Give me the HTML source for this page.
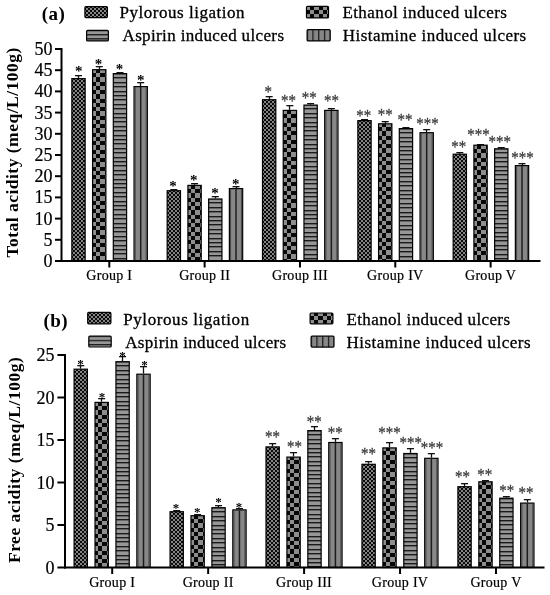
<!DOCTYPE html>
<html><head><meta charset="utf-8"><title>Total and free acidity</title>
<style>
html,body{margin:0;padding:0;background:#fff;}
body{width:550px;height:595px;overflow:hidden;}
svg{display:block;}
text{font-family:'Liberation Serif', 'Times New Roman', serif;fill:#000;}
.yl{font-size:18px;stroke:#000;stroke-width:0.2px;}
.gl{font-size:14px;letter-spacing:0.3px;stroke:#000;stroke-width:0.2px;}
.yt{font-size:17.6px;font-weight:bold;}
.pn{font-size:19px;font-weight:bold;letter-spacing:0.4px;}
.lg{font-size:17px;stroke:#000;stroke-width:0.3px;}
.s1{font-size:15px;font-weight:bold;}
.s2{font-size:15px;fill:#3a3a3a;stroke:#3a3a3a;stroke-width:0.25px;}
.s3{font-size:13px;font-weight:bold;}
.ax{stroke:#000;stroke-width:2;}
.eb{fill:#111;}
.st{stroke:#111;stroke-width:1.3;}
.bar{stroke:#000;stroke-width:1.2;}
</style></head><body>
<svg width="550" height="595" viewBox="0 0 550 595">
<defs>
<pattern id="ab00" patternUnits="userSpaceOnUse" x="71" y="78" width="4" height="4"><rect width="4" height="4" fill="#0a0a0a"/><rect width="2" height="2" fill="#848484"/><rect x="2" y="2" width="2" height="2" fill="#848484"/></pattern>
<pattern id="ab01" patternUnits="userSpaceOnUse" x="92" y="69" width="17" height="17"><rect width="17" height="17" fill="#080808"/><rect x="0" y="0" width="4" height="4" fill="#8e8e8e"/><rect x="0" y="8" width="4" height="5" fill="#8e8e8e"/><rect x="4" y="4" width="4" height="4" fill="#8e8e8e"/><rect x="4" y="13" width="4" height="4" fill="#8e8e8e"/><rect x="8" y="0" width="5" height="4" fill="#8e8e8e"/><rect x="8" y="8" width="5" height="5" fill="#8e8e8e"/><rect x="13" y="4" width="4" height="4" fill="#8e8e8e"/><rect x="13" y="13" width="4" height="4" fill="#8e8e8e"/></pattern>
<pattern id="ab02" patternUnits="userSpaceOnUse" x="0" y="73" width="4" height="22"><rect width="4" height="22" fill="#969696"/><rect y="0" width="4" height="1.4" fill="#1a1a1a"/><rect y="4" width="4" height="1.4" fill="#1a1a1a"/><rect y="9" width="4" height="1.4" fill="#1a1a1a"/><rect y="13" width="4" height="1.4" fill="#1a1a1a"/><rect y="18" width="4" height="1.4" fill="#1a1a1a"/></pattern>
<pattern id="ab10" patternUnits="userSpaceOnUse" x="167" y="190" width="4" height="4"><rect width="4" height="4" fill="#0a0a0a"/><rect width="2" height="2" fill="#848484"/><rect x="2" y="2" width="2" height="2" fill="#848484"/></pattern>
<pattern id="ab11" patternUnits="userSpaceOnUse" x="187" y="185" width="17" height="17"><rect width="17" height="17" fill="#080808"/><rect x="0" y="0" width="4" height="4" fill="#8e8e8e"/><rect x="0" y="8" width="4" height="5" fill="#8e8e8e"/><rect x="4" y="4" width="4" height="4" fill="#8e8e8e"/><rect x="4" y="13" width="4" height="4" fill="#8e8e8e"/><rect x="8" y="0" width="5" height="4" fill="#8e8e8e"/><rect x="8" y="8" width="5" height="5" fill="#8e8e8e"/><rect x="13" y="4" width="4" height="4" fill="#8e8e8e"/><rect x="13" y="13" width="4" height="4" fill="#8e8e8e"/></pattern>
<pattern id="ab12" patternUnits="userSpaceOnUse" x="0" y="198" width="4" height="22"><rect width="4" height="22" fill="#969696"/><rect y="0" width="4" height="1.4" fill="#1a1a1a"/><rect y="4" width="4" height="1.4" fill="#1a1a1a"/><rect y="9" width="4" height="1.4" fill="#1a1a1a"/><rect y="13" width="4" height="1.4" fill="#1a1a1a"/><rect y="18" width="4" height="1.4" fill="#1a1a1a"/></pattern>
<pattern id="ab20" patternUnits="userSpaceOnUse" x="262" y="99" width="4" height="4"><rect width="4" height="4" fill="#0a0a0a"/><rect width="2" height="2" fill="#848484"/><rect x="2" y="2" width="2" height="2" fill="#848484"/></pattern>
<pattern id="ab21" patternUnits="userSpaceOnUse" x="283" y="110" width="17" height="17"><rect width="17" height="17" fill="#080808"/><rect x="0" y="0" width="4" height="4" fill="#8e8e8e"/><rect x="0" y="8" width="4" height="5" fill="#8e8e8e"/><rect x="4" y="4" width="4" height="4" fill="#8e8e8e"/><rect x="4" y="13" width="4" height="4" fill="#8e8e8e"/><rect x="8" y="0" width="5" height="4" fill="#8e8e8e"/><rect x="8" y="8" width="5" height="5" fill="#8e8e8e"/><rect x="13" y="4" width="4" height="4" fill="#8e8e8e"/><rect x="13" y="13" width="4" height="4" fill="#8e8e8e"/></pattern>
<pattern id="ab22" patternUnits="userSpaceOnUse" x="0" y="104" width="4" height="22"><rect width="4" height="22" fill="#969696"/><rect y="0" width="4" height="1.4" fill="#1a1a1a"/><rect y="4" width="4" height="1.4" fill="#1a1a1a"/><rect y="9" width="4" height="1.4" fill="#1a1a1a"/><rect y="13" width="4" height="1.4" fill="#1a1a1a"/><rect y="18" width="4" height="1.4" fill="#1a1a1a"/></pattern>
<pattern id="ab30" patternUnits="userSpaceOnUse" x="357" y="120" width="4" height="4"><rect width="4" height="4" fill="#0a0a0a"/><rect width="2" height="2" fill="#848484"/><rect x="2" y="2" width="2" height="2" fill="#848484"/></pattern>
<pattern id="ab31" patternUnits="userSpaceOnUse" x="378" y="123" width="17" height="17"><rect width="17" height="17" fill="#080808"/><rect x="0" y="0" width="4" height="4" fill="#8e8e8e"/><rect x="0" y="8" width="4" height="5" fill="#8e8e8e"/><rect x="4" y="4" width="4" height="4" fill="#8e8e8e"/><rect x="4" y="13" width="4" height="4" fill="#8e8e8e"/><rect x="8" y="0" width="5" height="4" fill="#8e8e8e"/><rect x="8" y="8" width="5" height="5" fill="#8e8e8e"/><rect x="13" y="4" width="4" height="4" fill="#8e8e8e"/><rect x="13" y="13" width="4" height="4" fill="#8e8e8e"/></pattern>
<pattern id="ab32" patternUnits="userSpaceOnUse" x="0" y="128" width="4" height="22"><rect width="4" height="22" fill="#969696"/><rect y="0" width="4" height="1.4" fill="#1a1a1a"/><rect y="4" width="4" height="1.4" fill="#1a1a1a"/><rect y="9" width="4" height="1.4" fill="#1a1a1a"/><rect y="13" width="4" height="1.4" fill="#1a1a1a"/><rect y="18" width="4" height="1.4" fill="#1a1a1a"/></pattern>
<pattern id="ab40" patternUnits="userSpaceOnUse" x="453" y="154" width="4" height="4"><rect width="4" height="4" fill="#0a0a0a"/><rect width="2" height="2" fill="#848484"/><rect x="2" y="2" width="2" height="2" fill="#848484"/></pattern>
<pattern id="ab41" patternUnits="userSpaceOnUse" x="473" y="145" width="17" height="17"><rect width="17" height="17" fill="#080808"/><rect x="0" y="0" width="4" height="4" fill="#8e8e8e"/><rect x="0" y="8" width="4" height="5" fill="#8e8e8e"/><rect x="4" y="4" width="4" height="4" fill="#8e8e8e"/><rect x="4" y="13" width="4" height="4" fill="#8e8e8e"/><rect x="8" y="0" width="5" height="4" fill="#8e8e8e"/><rect x="8" y="8" width="5" height="5" fill="#8e8e8e"/><rect x="13" y="4" width="4" height="4" fill="#8e8e8e"/><rect x="13" y="13" width="4" height="4" fill="#8e8e8e"/></pattern>
<pattern id="ab42" patternUnits="userSpaceOnUse" x="0" y="148" width="4" height="22"><rect width="4" height="22" fill="#969696"/><rect y="0" width="4" height="1.4" fill="#1a1a1a"/><rect y="4" width="4" height="1.4" fill="#1a1a1a"/><rect y="9" width="4" height="1.4" fill="#1a1a1a"/><rect y="13" width="4" height="1.4" fill="#1a1a1a"/><rect y="18" width="4" height="1.4" fill="#1a1a1a"/></pattern>
<pattern id="al0" patternUnits="userSpaceOnUse" x="84" y="6" width="4" height="4"><rect width="4" height="4" fill="#0a0a0a"/><rect width="2" height="2" fill="#848484"/><rect x="2" y="2" width="2" height="2" fill="#848484"/></pattern>
<pattern id="al1" patternUnits="userSpaceOnUse" x="86" y="29.8" width="4" height="4.2"><rect width="4" height="4.2" fill="#969696"/><rect width="4" height="1.3" fill="#1a1a1a"/></pattern>
<pattern id="al2" patternUnits="userSpaceOnUse" x="306" y="6" width="17" height="17"><rect width="17" height="17" fill="#080808"/><rect x="0" y="0" width="4" height="4" fill="#8e8e8e"/><rect x="0" y="8" width="4" height="5" fill="#8e8e8e"/><rect x="4" y="4" width="4" height="4" fill="#8e8e8e"/><rect x="4" y="13" width="4" height="4" fill="#8e8e8e"/><rect x="8" y="0" width="5" height="4" fill="#8e8e8e"/><rect x="8" y="8" width="5" height="5" fill="#8e8e8e"/><rect x="13" y="4" width="4" height="4" fill="#8e8e8e"/><rect x="13" y="13" width="4" height="4" fill="#8e8e8e"/></pattern>
<pattern id="al3" patternUnits="userSpaceOnUse" x="306.5" y="29.1" width="5.8" height="4"><rect width="5.8" height="4" fill="#878787"/><rect width="1.3" height="4" fill="#1e1e1e"/></pattern>
<pattern id="bb00" patternUnits="userSpaceOnUse" x="74" y="369" width="4" height="4"><rect width="4" height="4" fill="#0a0a0a"/><rect width="2" height="2" fill="#848484"/><rect x="2" y="2" width="2" height="2" fill="#848484"/></pattern>
<pattern id="bb01" patternUnits="userSpaceOnUse" x="94" y="402" width="17" height="17"><rect width="17" height="17" fill="#080808"/><rect x="0" y="0" width="4" height="4" fill="#8e8e8e"/><rect x="0" y="8" width="4" height="5" fill="#8e8e8e"/><rect x="4" y="4" width="4" height="4" fill="#8e8e8e"/><rect x="4" y="13" width="4" height="4" fill="#8e8e8e"/><rect x="8" y="0" width="5" height="4" fill="#8e8e8e"/><rect x="8" y="8" width="5" height="5" fill="#8e8e8e"/><rect x="13" y="4" width="4" height="4" fill="#8e8e8e"/><rect x="13" y="13" width="4" height="4" fill="#8e8e8e"/></pattern>
<pattern id="bb02" patternUnits="userSpaceOnUse" x="0" y="361" width="4" height="22"><rect width="4" height="22" fill="#969696"/><rect y="0" width="4" height="1.4" fill="#1a1a1a"/><rect y="4" width="4" height="1.4" fill="#1a1a1a"/><rect y="9" width="4" height="1.4" fill="#1a1a1a"/><rect y="13" width="4" height="1.4" fill="#1a1a1a"/><rect y="18" width="4" height="1.4" fill="#1a1a1a"/></pattern>
<pattern id="bb10" patternUnits="userSpaceOnUse" x="169" y="511" width="4" height="4"><rect width="4" height="4" fill="#0a0a0a"/><rect width="2" height="2" fill="#848484"/><rect x="2" y="2" width="2" height="2" fill="#848484"/></pattern>
<pattern id="bb11" patternUnits="userSpaceOnUse" x="190" y="515" width="17" height="17"><rect width="17" height="17" fill="#080808"/><rect x="0" y="0" width="4" height="4" fill="#8e8e8e"/><rect x="0" y="8" width="4" height="5" fill="#8e8e8e"/><rect x="4" y="4" width="4" height="4" fill="#8e8e8e"/><rect x="4" y="13" width="4" height="4" fill="#8e8e8e"/><rect x="8" y="0" width="5" height="4" fill="#8e8e8e"/><rect x="8" y="8" width="5" height="5" fill="#8e8e8e"/><rect x="13" y="4" width="4" height="4" fill="#8e8e8e"/><rect x="13" y="13" width="4" height="4" fill="#8e8e8e"/></pattern>
<pattern id="bb12" patternUnits="userSpaceOnUse" x="0" y="507" width="4" height="22"><rect width="4" height="22" fill="#969696"/><rect y="0" width="4" height="1.4" fill="#1a1a1a"/><rect y="4" width="4" height="1.4" fill="#1a1a1a"/><rect y="9" width="4" height="1.4" fill="#1a1a1a"/><rect y="13" width="4" height="1.4" fill="#1a1a1a"/><rect y="18" width="4" height="1.4" fill="#1a1a1a"/></pattern>
<pattern id="bb20" patternUnits="userSpaceOnUse" x="265" y="446" width="4" height="4"><rect width="4" height="4" fill="#0a0a0a"/><rect width="2" height="2" fill="#848484"/><rect x="2" y="2" width="2" height="2" fill="#848484"/></pattern>
<pattern id="bb21" patternUnits="userSpaceOnUse" x="286" y="456" width="17" height="17"><rect width="17" height="17" fill="#080808"/><rect x="0" y="0" width="4" height="4" fill="#8e8e8e"/><rect x="0" y="8" width="4" height="5" fill="#8e8e8e"/><rect x="4" y="4" width="4" height="4" fill="#8e8e8e"/><rect x="4" y="13" width="4" height="4" fill="#8e8e8e"/><rect x="8" y="0" width="5" height="4" fill="#8e8e8e"/><rect x="8" y="8" width="5" height="5" fill="#8e8e8e"/><rect x="13" y="4" width="4" height="4" fill="#8e8e8e"/><rect x="13" y="13" width="4" height="4" fill="#8e8e8e"/></pattern>
<pattern id="bb22" patternUnits="userSpaceOnUse" x="0" y="430" width="4" height="22"><rect width="4" height="22" fill="#969696"/><rect y="0" width="4" height="1.4" fill="#1a1a1a"/><rect y="4" width="4" height="1.4" fill="#1a1a1a"/><rect y="9" width="4" height="1.4" fill="#1a1a1a"/><rect y="13" width="4" height="1.4" fill="#1a1a1a"/><rect y="18" width="4" height="1.4" fill="#1a1a1a"/></pattern>
<pattern id="bb30" patternUnits="userSpaceOnUse" x="361" y="464" width="4" height="4"><rect width="4" height="4" fill="#0a0a0a"/><rect width="2" height="2" fill="#848484"/><rect x="2" y="2" width="2" height="2" fill="#848484"/></pattern>
<pattern id="bb31" patternUnits="userSpaceOnUse" x="382" y="447" width="17" height="17"><rect width="17" height="17" fill="#080808"/><rect x="0" y="0" width="4" height="4" fill="#8e8e8e"/><rect x="0" y="8" width="4" height="5" fill="#8e8e8e"/><rect x="4" y="4" width="4" height="4" fill="#8e8e8e"/><rect x="4" y="13" width="4" height="4" fill="#8e8e8e"/><rect x="8" y="0" width="5" height="4" fill="#8e8e8e"/><rect x="8" y="8" width="5" height="5" fill="#8e8e8e"/><rect x="13" y="4" width="4" height="4" fill="#8e8e8e"/><rect x="13" y="13" width="4" height="4" fill="#8e8e8e"/></pattern>
<pattern id="bb32" patternUnits="userSpaceOnUse" x="0" y="453" width="4" height="22"><rect width="4" height="22" fill="#969696"/><rect y="0" width="4" height="1.4" fill="#1a1a1a"/><rect y="4" width="4" height="1.4" fill="#1a1a1a"/><rect y="9" width="4" height="1.4" fill="#1a1a1a"/><rect y="13" width="4" height="1.4" fill="#1a1a1a"/><rect y="18" width="4" height="1.4" fill="#1a1a1a"/></pattern>
<pattern id="bb40" patternUnits="userSpaceOnUse" x="457" y="486" width="4" height="4"><rect width="4" height="4" fill="#0a0a0a"/><rect width="2" height="2" fill="#848484"/><rect x="2" y="2" width="2" height="2" fill="#848484"/></pattern>
<pattern id="bb41" patternUnits="userSpaceOnUse" x="478" y="481" width="17" height="17"><rect width="17" height="17" fill="#080808"/><rect x="0" y="0" width="4" height="4" fill="#8e8e8e"/><rect x="0" y="8" width="4" height="5" fill="#8e8e8e"/><rect x="4" y="4" width="4" height="4" fill="#8e8e8e"/><rect x="4" y="13" width="4" height="4" fill="#8e8e8e"/><rect x="8" y="0" width="5" height="4" fill="#8e8e8e"/><rect x="8" y="8" width="5" height="5" fill="#8e8e8e"/><rect x="13" y="4" width="4" height="4" fill="#8e8e8e"/><rect x="13" y="13" width="4" height="4" fill="#8e8e8e"/></pattern>
<pattern id="bb42" patternUnits="userSpaceOnUse" x="0" y="498" width="4" height="22"><rect width="4" height="22" fill="#969696"/><rect y="0" width="4" height="1.4" fill="#1a1a1a"/><rect y="4" width="4" height="1.4" fill="#1a1a1a"/><rect y="9" width="4" height="1.4" fill="#1a1a1a"/><rect y="13" width="4" height="1.4" fill="#1a1a1a"/><rect y="18" width="4" height="1.4" fill="#1a1a1a"/></pattern>
<pattern id="bl0" patternUnits="userSpaceOnUse" x="87" y="312" width="4" height="4"><rect width="4" height="4" fill="#0a0a0a"/><rect width="2" height="2" fill="#848484"/><rect x="2" y="2" width="2" height="2" fill="#848484"/></pattern>
<pattern id="bl1" patternUnits="userSpaceOnUse" x="88.2" y="335.6" width="4" height="4.2"><rect width="4" height="4.2" fill="#969696"/><rect width="4" height="1.3" fill="#1a1a1a"/></pattern>
<pattern id="bl2" patternUnits="userSpaceOnUse" x="310" y="312" width="17" height="17"><rect width="17" height="17" fill="#080808"/><rect x="0" y="0" width="4" height="4" fill="#8e8e8e"/><rect x="0" y="8" width="4" height="5" fill="#8e8e8e"/><rect x="4" y="4" width="4" height="4" fill="#8e8e8e"/><rect x="4" y="13" width="4" height="4" fill="#8e8e8e"/><rect x="8" y="0" width="5" height="4" fill="#8e8e8e"/><rect x="8" y="8" width="5" height="5" fill="#8e8e8e"/><rect x="13" y="4" width="4" height="4" fill="#8e8e8e"/><rect x="13" y="13" width="4" height="4" fill="#8e8e8e"/></pattern>
<pattern id="bl3" patternUnits="userSpaceOnUse" x="310.5" y="335.6" width="5.8" height="4"><rect width="5.8" height="4" fill="#878787"/><rect width="1.3" height="4" fill="#1e1e1e"/></pattern>
</defs>
<line x1="78.5" y1="75.7" x2="78.5" y2="78" class="st"/>
<rect x="75" y="75" width="7" height="1.3" class="eb"/>
<rect x="71.85" y="78.6" width="13.3" height="182.4" fill="url(#ab00)" class="bar"/>
<text x="78.7" y="75.5" text-anchor="middle" class="s1">*</text>
<line x1="99.5" y1="66.8" x2="99.5" y2="69.1" class="st"/>
<rect x="95.73" y="66" width="7" height="1.3" class="eb"/>
<rect x="92.58" y="69.7" width="13.3" height="191.3" fill="url(#ab01)" class="bar"/>
<text x="98.4" y="68.5" text-anchor="middle" class="s1">*</text>
<line x1="119.5" y1="72" x2="119.5" y2="73" class="st"/>
<rect x="116.46" y="72" width="7" height="1.3" class="eb"/>
<rect x="113.31" y="73.6" width="13.3" height="187.4" fill="url(#ab02)" class="bar"/>
<text x="119.6" y="73.9" text-anchor="middle" class="s1">*</text>
<line x1="140.5" y1="83" x2="140.5" y2="86" class="st"/>
<rect x="137.19" y="82" width="7" height="1.3" class="eb"/>
<rect x="134.04" y="86.6" width="13.3" height="174.4" fill="#878787" class="bar"/>
<rect x="134.64" y="87.2" width="1.1" height="173.8" fill="#4a4a4a"/>
<rect x="145.64" y="87.2" width="1.1" height="173.8" fill="#4a4a4a"/>
<rect x="139.94" y="87" width="1.5" height="174" fill="#1e1e1e"/>
<text x="140.8" y="84.7" text-anchor="middle" class="s1">*</text>
<line x1="173.5" y1="189.6" x2="173.5" y2="190.1" class="st"/>
<rect x="170.33" y="189" width="7" height="1.3" class="eb"/>
<rect x="167.18" y="190.7" width="13.3" height="70.3" fill="url(#ab10)" class="bar"/>
<text x="172.9" y="191.3" text-anchor="middle" class="s1">*</text>
<line x1="194.5" y1="183.4" x2="194.5" y2="184.8" class="st"/>
<rect x="191.06" y="183" width="7" height="1.3" class="eb"/>
<rect x="187.91" y="185.4" width="13.3" height="75.6" fill="url(#ab11)" class="bar"/>
<text x="193.7" y="184.8" text-anchor="middle" class="s1">*</text>
<line x1="215.5" y1="196.5" x2="215.5" y2="198.4" class="st"/>
<rect x="211.79" y="196" width="7" height="1.3" class="eb"/>
<rect x="208.64" y="199" width="13.3" height="62" fill="url(#ab12)" class="bar"/>
<text x="215" y="198.4" text-anchor="middle" class="s1">*</text>
<line x1="236.5" y1="186.4" x2="236.5" y2="188" class="st"/>
<rect x="232.52" y="186" width="7" height="1.3" class="eb"/>
<rect x="229.37" y="188.6" width="13.3" height="72.4" fill="#878787" class="bar"/>
<rect x="229.97" y="189.2" width="1.1" height="71.8" fill="#4a4a4a"/>
<rect x="240.97" y="189.2" width="1.1" height="71.8" fill="#4a4a4a"/>
<rect x="235.27" y="189" width="1.5" height="72" fill="#1e1e1e"/>
<text x="235.8" y="188.7" text-anchor="middle" class="s1">*</text>
<line x1="269.5" y1="96.9" x2="269.5" y2="99.1" class="st"/>
<rect x="265.66" y="96" width="7" height="1.3" class="eb"/>
<rect x="262.51" y="99.7" width="13.3" height="161.3" fill="url(#ab20)" class="bar"/>
<text transform="translate(268.25,97) scale(1,1.18)" text-anchor="middle" class="s2">*</text>
<line x1="289.5" y1="105.7" x2="289.5" y2="109.8" class="st"/>
<rect x="286.39" y="105" width="7" height="1.3" class="eb"/>
<rect x="283.24" y="110.4" width="13.3" height="150.6" fill="url(#ab21)" class="bar"/>
<text transform="translate(288.45,105.8) scale(1,1.18)" text-anchor="middle" class="s2">**</text>
<line x1="310.5" y1="103.4" x2="310.5" y2="104.5" class="st"/>
<rect x="307.12" y="103" width="7" height="1.3" class="eb"/>
<rect x="303.97" y="105.1" width="13.3" height="155.9" fill="url(#ab22)" class="bar"/>
<text transform="translate(309.2,103.1) scale(1,1.18)" text-anchor="middle" class="s2">**</text>
<line x1="331.5" y1="108.2" x2="331.5" y2="109.8" class="st"/>
<rect x="327.85" y="108" width="7" height="1.3" class="eb"/>
<rect x="324.7" y="110.4" width="13.3" height="150.6" fill="#878787" class="bar"/>
<rect x="325.3" y="111" width="1.1" height="150" fill="#4a4a4a"/>
<rect x="336.3" y="111" width="1.1" height="150" fill="#4a4a4a"/>
<rect x="330.6" y="110.8" width="1.5" height="150.2" fill="#1e1e1e"/>
<text transform="translate(331.5,105.6) scale(1,1.18)" text-anchor="middle" class="s2">**</text>
<line x1="364.5" y1="119.5" x2="364.5" y2="120" class="st"/>
<rect x="360.99" y="119" width="7" height="1.3" class="eb"/>
<rect x="357.84" y="120.6" width="13.3" height="140.4" fill="url(#ab30)" class="bar"/>
<text transform="translate(363.75,120.6) scale(1,1.18)" text-anchor="middle" class="s2">**</text>
<line x1="385.5" y1="121.2" x2="385.5" y2="123.2" class="st"/>
<rect x="381.72" y="121" width="7" height="1.3" class="eb"/>
<rect x="378.57" y="123.8" width="13.3" height="137.2" fill="url(#ab31)" class="bar"/>
<text transform="translate(385.35,119.9) scale(1,1.18)" text-anchor="middle" class="s2">**</text>
<line x1="405.5" y1="127.2" x2="405.5" y2="128" class="st"/>
<rect x="402.45" y="127" width="7" height="1.3" class="eb"/>
<rect x="399.3" y="128.6" width="13.3" height="132.4" fill="url(#ab32)" class="bar"/>
<text transform="translate(404.9,124.6) scale(1,1.18)" text-anchor="middle" class="s2">**</text>
<line x1="426.5" y1="129.4" x2="426.5" y2="132.1" class="st"/>
<rect x="423.18" y="129" width="7" height="1.3" class="eb"/>
<rect x="420.03" y="132.7" width="13.3" height="128.3" fill="#878787" class="bar"/>
<rect x="420.63" y="133.3" width="1.1" height="127.7" fill="#4a4a4a"/>
<rect x="431.63" y="133.3" width="1.1" height="127.7" fill="#4a4a4a"/>
<rect x="425.93" y="133.1" width="1.5" height="127.9" fill="#1e1e1e"/>
<text transform="translate(427.5,129.2) scale(1,1.18)" text-anchor="middle" class="s2">***</text>
<line x1="459.5" y1="153" x2="459.5" y2="153.6" class="st"/>
<rect x="456.32" y="152" width="7" height="1.3" class="eb"/>
<rect x="453.17" y="154.2" width="13.3" height="106.8" fill="url(#ab40)" class="bar"/>
<text transform="translate(458.65,151.5) scale(1,1.18)" text-anchor="middle" class="s2">**</text>
<line x1="480.5" y1="144.2" x2="480.5" y2="144.6" class="st"/>
<rect x="477.05" y="144" width="7" height="1.3" class="eb"/>
<rect x="473.9" y="145.2" width="13.3" height="115.8" fill="url(#ab41)" class="bar"/>
<text transform="translate(478.6,139.7) scale(1,1.18)" text-anchor="middle" class="s2">***</text>
<line x1="501.5" y1="147.7" x2="501.5" y2="148.2" class="st"/>
<rect x="497.78" y="147" width="7" height="1.3" class="eb"/>
<rect x="494.63" y="148.8" width="13.3" height="112.2" fill="url(#ab42)" class="bar"/>
<text transform="translate(499.85,146.9) scale(1,1.18)" text-anchor="middle" class="s2">***</text>
<line x1="522.5" y1="163.5" x2="522.5" y2="165" class="st"/>
<rect x="518.51" y="163" width="7" height="1.3" class="eb"/>
<rect x="515.36" y="165.6" width="13.3" height="95.4" fill="#878787" class="bar"/>
<rect x="515.96" y="166.2" width="1.1" height="94.8" fill="#4a4a4a"/>
<rect x="526.96" y="166.2" width="1.1" height="94.8" fill="#4a4a4a"/>
<rect x="521.26" y="166" width="1.5" height="95" fill="#1e1e1e"/>
<text transform="translate(522.6,162.8) scale(1,1.18)" text-anchor="middle" class="s2">***</text>
<line x1="61.5" y1="48" x2="61.5" y2="262" class="ax"/>
<line x1="60.5" y1="261" x2="540.5" y2="261" class="ax"/>
<line x1="55" y1="261" x2="61.5" y2="261" class="ax"/>
<text x="52.5" y="267" text-anchor="end" class="yl">0</text>
<line x1="55" y1="239.8" x2="61.5" y2="239.8" class="ax"/>
<text x="52.5" y="245.8" text-anchor="end" class="yl">5</text>
<line x1="55" y1="218.6" x2="61.5" y2="218.6" class="ax"/>
<text x="52.5" y="224.6" text-anchor="end" class="yl">10</text>
<line x1="55" y1="197.4" x2="61.5" y2="197.4" class="ax"/>
<text x="52.5" y="203.4" text-anchor="end" class="yl">15</text>
<line x1="55" y1="176.2" x2="61.5" y2="176.2" class="ax"/>
<text x="52.5" y="182.2" text-anchor="end" class="yl">20</text>
<line x1="55" y1="155" x2="61.5" y2="155" class="ax"/>
<text x="52.5" y="161" text-anchor="end" class="yl">25</text>
<line x1="55" y1="133.8" x2="61.5" y2="133.8" class="ax"/>
<text x="52.5" y="139.8" text-anchor="end" class="yl">30</text>
<line x1="55" y1="112.6" x2="61.5" y2="112.6" class="ax"/>
<text x="52.5" y="118.6" text-anchor="end" class="yl">35</text>
<line x1="55" y1="91.4" x2="61.5" y2="91.4" class="ax"/>
<text x="52.5" y="97.4" text-anchor="end" class="yl">40</text>
<line x1="55" y1="70.2" x2="61.5" y2="70.2" class="ax"/>
<text x="52.5" y="76.2" text-anchor="end" class="yl">45</text>
<line x1="55" y1="49" x2="61.5" y2="49" class="ax"/>
<text x="52.5" y="55" text-anchor="end" class="yl">50</text>
<line x1="109.3" y1="261" x2="109.3" y2="267.5" class="ax"/>
<text x="109.3" y="279.5" text-anchor="middle" class="gl">Group I</text>
<line x1="204.63" y1="261" x2="204.63" y2="267.5" class="ax"/>
<text x="204.63" y="279.5" text-anchor="middle" class="gl">Group II</text>
<line x1="299.96" y1="261" x2="299.96" y2="267.5" class="ax"/>
<text x="299.96" y="279.5" text-anchor="middle" class="gl">Group III</text>
<line x1="395.29" y1="261" x2="395.29" y2="267.5" class="ax"/>
<text x="395.29" y="279.5" text-anchor="middle" class="gl">Group IV</text>
<line x1="490.62" y1="261" x2="490.62" y2="267.5" class="ax"/>
<text x="490.62" y="279.5" text-anchor="middle" class="gl">Group V</text>
<text transform="translate(18.1,257.6) rotate(-90)" class="yt" textLength="210" lengthAdjust="spacing">Total acidity (meq/L/100g)</text>
<text x="41.8" y="20.4" class="pn">(a)</text>
<rect x="84.9" y="6.6" width="22.5" height="11" rx="1" fill="url(#al0)" class="bar"/>
<text x="119.6" y="17.9" class="lg" textLength="125" lengthAdjust="spacing">Pylorous ligation</text>
<rect x="86.6" y="30.4" width="21.8" height="10.5" rx="1" fill="url(#al1)" class="bar"/>
<text x="122.5" y="40.8" class="lg" textLength="161.5" lengthAdjust="spacing">Aspirin induced ulcers</text>
<rect x="306.5" y="6.3" width="22" height="11.6" rx="1" fill="url(#al2)" class="bar"/>
<text x="342.4" y="18.2" class="lg" textLength="164.5" lengthAdjust="spacing">Ethanol induced ulcers</text>
<rect x="307.1" y="29.7" width="23.1" height="11.2" rx="1" fill="url(#al3)" class="bar"/>
<text x="342.7" y="40.9" class="lg" textLength="183.5" lengthAdjust="spacing">Histamine induced ulcers</text>
<line x1="80.5" y1="365.9" x2="80.5" y2="368.6" class="st"/>
<rect x="77.25" y="365" width="7" height="1.3" class="eb"/>
<rect x="74.1" y="369.2" width="13.3" height="198.3" fill="url(#bb00)" class="bar"/>
<text x="80.6" y="368.2" text-anchor="middle" class="s3">*</text>
<line x1="101.5" y1="398.4" x2="101.5" y2="401.8" class="st"/>
<rect x="98.17" y="398" width="7" height="1.3" class="eb"/>
<rect x="95.02" y="402.4" width="13.3" height="165.1" fill="url(#bb01)" class="bar"/>
<text x="102.1" y="400.5" text-anchor="middle" class="s3">*</text>
<line x1="122.5" y1="357" x2="122.5" y2="361.1" class="st"/>
<rect x="119.09" y="356" width="7" height="1.3" class="eb"/>
<rect x="115.94" y="361.7" width="13.3" height="205.8" fill="url(#bb02)" class="bar"/>
<text x="122.5" y="359.6" text-anchor="middle" class="s3">*</text>
<line x1="143.5" y1="367" x2="143.5" y2="373.6" class="st"/>
<rect x="140.01" y="366" width="7" height="1.3" class="eb"/>
<rect x="136.86" y="374.2" width="13.3" height="193.3" fill="#878787" class="bar"/>
<rect x="137.46" y="374.8" width="1.1" height="192.7" fill="#4a4a4a"/>
<rect x="148.46" y="374.8" width="1.1" height="192.7" fill="#4a4a4a"/>
<rect x="142.76" y="374.6" width="1.5" height="192.9" fill="#1e1e1e"/>
<text x="144.5" y="369.1" text-anchor="middle" class="s3">*</text>
<line x1="176.5" y1="510.6" x2="176.5" y2="511.1" class="st"/>
<rect x="173.2" y="510" width="7" height="1.3" class="eb"/>
<rect x="170.05" y="511.7" width="13.3" height="55.8" fill="url(#bb10)" class="bar"/>
<text x="176" y="512" text-anchor="middle" class="s3">*</text>
<line x1="197.5" y1="514.5" x2="197.5" y2="515.1" class="st"/>
<rect x="194.12" y="514" width="7" height="1.3" class="eb"/>
<rect x="190.97" y="515.7" width="13.3" height="51.8" fill="url(#bb11)" class="bar"/>
<text x="197.25" y="516.4" text-anchor="middle" class="s3">*</text>
<line x1="218.5" y1="505.6" x2="218.5" y2="507.1" class="st"/>
<rect x="215.04" y="505" width="7" height="1.3" class="eb"/>
<rect x="211.89" y="507.7" width="13.3" height="59.8" fill="url(#bb12)" class="bar"/>
<text x="218.5" y="505.5" text-anchor="middle" class="s3">*</text>
<line x1="239.5" y1="508.5" x2="239.5" y2="509.3" class="st"/>
<rect x="235.96" y="508" width="7" height="1.3" class="eb"/>
<rect x="232.81" y="509.9" width="13.3" height="57.6" fill="#878787" class="bar"/>
<rect x="233.41" y="510.5" width="1.1" height="57" fill="#4a4a4a"/>
<rect x="244.41" y="510.5" width="1.1" height="57" fill="#4a4a4a"/>
<rect x="238.71" y="510.3" width="1.5" height="57.2" fill="#1e1e1e"/>
<text x="239.1" y="510.6" text-anchor="middle" class="s3">*</text>
<line x1="272.5" y1="443.9" x2="272.5" y2="446.3" class="st"/>
<rect x="269.15" y="443" width="7" height="1.3" class="eb"/>
<rect x="266" y="446.9" width="13.3" height="120.6" fill="url(#bb20)" class="bar"/>
<text transform="translate(272.55,442.2) scale(1,1.18)" text-anchor="middle" class="s2">**</text>
<line x1="293.5" y1="452.7" x2="293.5" y2="456.5" class="st"/>
<rect x="290.07" y="452" width="7" height="1.3" class="eb"/>
<rect x="286.92" y="457.1" width="13.3" height="110.4" fill="url(#bb21)" class="bar"/>
<text transform="translate(294.55,452) scale(1,1.18)" text-anchor="middle" class="s2">**</text>
<line x1="314.5" y1="426.4" x2="314.5" y2="430" class="st"/>
<rect x="310.99" y="426" width="7" height="1.3" class="eb"/>
<rect x="307.84" y="430.6" width="13.3" height="136.9" fill="url(#bb22)" class="bar"/>
<text transform="translate(314.25,426.6) scale(1,1.18)" text-anchor="middle" class="s2">**</text>
<line x1="335.5" y1="438.6" x2="335.5" y2="441.9" class="st"/>
<rect x="331.91" y="438" width="7" height="1.3" class="eb"/>
<rect x="328.76" y="442.5" width="13.3" height="125" fill="#878787" class="bar"/>
<rect x="329.36" y="443.1" width="1.1" height="124.4" fill="#4a4a4a"/>
<rect x="340.36" y="443.1" width="1.1" height="124.4" fill="#4a4a4a"/>
<rect x="334.66" y="442.9" width="1.5" height="124.6" fill="#1e1e1e"/>
<text transform="translate(335.35,437.8) scale(1,1.18)" text-anchor="middle" class="s2">**</text>
<line x1="368.5" y1="461.6" x2="368.5" y2="463.7" class="st"/>
<rect x="365.1" y="461" width="7" height="1.3" class="eb"/>
<rect x="361.95" y="464.3" width="13.3" height="103.2" fill="url(#bb30)" class="bar"/>
<text transform="translate(368.6,459.2) scale(1,1.18)" text-anchor="middle" class="s2">**</text>
<line x1="389.5" y1="442" x2="389.5" y2="447.3" class="st"/>
<rect x="386.02" y="442" width="7" height="1.3" class="eb"/>
<rect x="382.87" y="447.9" width="13.3" height="119.6" fill="url(#bb31)" class="bar"/>
<text transform="translate(389.4,438.1) scale(1,1.18)" text-anchor="middle" class="s2">***</text>
<line x1="410.5" y1="448.7" x2="410.5" y2="452.9" class="st"/>
<rect x="406.94" y="448" width="7" height="1.3" class="eb"/>
<rect x="403.79" y="453.5" width="13.3" height="114" fill="url(#bb32)" class="bar"/>
<text transform="translate(410.85,448) scale(1,1.18)" text-anchor="middle" class="s2">***</text>
<line x1="431.5" y1="453.2" x2="431.5" y2="457.7" class="st"/>
<rect x="427.86" y="453" width="7" height="1.3" class="eb"/>
<rect x="424.71" y="458.3" width="13.3" height="109.2" fill="#878787" class="bar"/>
<rect x="425.31" y="458.9" width="1.1" height="108.6" fill="#4a4a4a"/>
<rect x="436.31" y="458.9" width="1.1" height="108.6" fill="#4a4a4a"/>
<rect x="430.61" y="458.7" width="1.5" height="108.8" fill="#1e1e1e"/>
<text transform="translate(432,453.3) scale(1,1.18)" text-anchor="middle" class="s2">***</text>
<line x1="464.5" y1="483.1" x2="464.5" y2="486.1" class="st"/>
<rect x="461.05" y="483" width="7" height="1.3" class="eb"/>
<rect x="457.9" y="486.7" width="13.3" height="80.8" fill="url(#bb40)" class="bar"/>
<text transform="translate(462.6,481.6) scale(1,1.18)" text-anchor="middle" class="s2">**</text>
<rect x="481.97" y="480" width="7" height="1.3" class="eb"/>
<rect x="478.82" y="481.8" width="13.3" height="85.7" fill="url(#bb41)" class="bar"/>
<text transform="translate(484.75,480.2) scale(1,1.18)" text-anchor="middle" class="s2">**</text>
<line x1="506.5" y1="497" x2="506.5" y2="497.6" class="st"/>
<rect x="502.89" y="496" width="7" height="1.3" class="eb"/>
<rect x="499.74" y="498.2" width="13.3" height="69.3" fill="url(#bb42)" class="bar"/>
<text transform="translate(506.65,496.2) scale(1,1.18)" text-anchor="middle" class="s2">**</text>
<line x1="527.5" y1="499.4" x2="527.5" y2="502.5" class="st"/>
<rect x="523.81" y="499" width="7" height="1.3" class="eb"/>
<rect x="520.66" y="503.1" width="13.3" height="64.4" fill="#878787" class="bar"/>
<rect x="521.26" y="503.7" width="1.1" height="63.8" fill="#4a4a4a"/>
<rect x="532.26" y="503.7" width="1.1" height="63.8" fill="#4a4a4a"/>
<rect x="526.56" y="503.5" width="1.5" height="64" fill="#1e1e1e"/>
<text transform="translate(525.95,498.4) scale(1,1.18)" text-anchor="middle" class="s2">**</text>
<line x1="65" y1="354" x2="65" y2="568.5" class="ax"/>
<line x1="64" y1="567.5" x2="544.5" y2="567.5" class="ax"/>
<line x1="57.4" y1="567.5" x2="65" y2="567.5" class="ax"/>
<text x="54.5" y="573.5" text-anchor="end" class="yl">0</text>
<line x1="57.4" y1="525" x2="65" y2="525" class="ax"/>
<text x="54.5" y="531" text-anchor="end" class="yl">5</text>
<line x1="57.4" y1="482.5" x2="65" y2="482.5" class="ax"/>
<text x="54.5" y="488.5" text-anchor="end" class="yl">10</text>
<line x1="57.4" y1="440" x2="65" y2="440" class="ax"/>
<text x="54.5" y="446" text-anchor="end" class="yl">15</text>
<line x1="57.4" y1="397.5" x2="65" y2="397.5" class="ax"/>
<text x="54.5" y="403.5" text-anchor="end" class="yl">20</text>
<line x1="57.4" y1="355" x2="65" y2="355" class="ax"/>
<text x="54.5" y="361" text-anchor="end" class="yl">25</text>
<line x1="112.2" y1="567.5" x2="112.2" y2="574" class="ax"/>
<text x="112.2" y="587" text-anchor="middle" class="gl">Group I</text>
<line x1="208.15" y1="567.5" x2="208.15" y2="574" class="ax"/>
<text x="208.15" y="587" text-anchor="middle" class="gl">Group II</text>
<line x1="304.1" y1="567.5" x2="304.1" y2="574" class="ax"/>
<text x="304.1" y="587" text-anchor="middle" class="gl">Group III</text>
<line x1="400.05" y1="567.5" x2="400.05" y2="574" class="ax"/>
<text x="400.05" y="587" text-anchor="middle" class="gl">Group IV</text>
<line x1="496" y1="567.5" x2="496" y2="574" class="ax"/>
<text x="496" y="587" text-anchor="middle" class="gl">Group V</text>
<text transform="translate(20.4,563.1) rotate(-90)" class="yt" textLength="206" lengthAdjust="spacing">Free acidity (meq/L/100g)</text>
<text x="43.5" y="326.5" class="pn">(b)</text>
<rect x="87.7" y="312.4" width="23.2" height="11.4" rx="1" fill="url(#bl0)" class="bar"/>
<text x="123.2" y="324.7" class="lg" textLength="126" lengthAdjust="spacing">Pylorous ligation</text>
<rect x="88.8" y="336.2" width="22.4" height="10.8" rx="1" fill="url(#bl1)" class="bar"/>
<text x="125.2" y="347.9" class="lg" textLength="161" lengthAdjust="spacing">Aspirin induced ulcers</text>
<rect x="310.1" y="313" width="22.8" height="10.8" rx="1" fill="url(#bl2)" class="bar"/>
<text x="346.5" y="324.5" class="lg" textLength="163.5" lengthAdjust="spacing">Ethanol induced ulcers</text>
<rect x="311.1" y="336.2" width="22.9" height="10.9" rx="1" fill="url(#bl3)" class="bar"/>
<text x="346.5" y="347.8" class="lg" textLength="184" lengthAdjust="spacing">Histamine induced ulcers</text>
</svg>
</body></html>
